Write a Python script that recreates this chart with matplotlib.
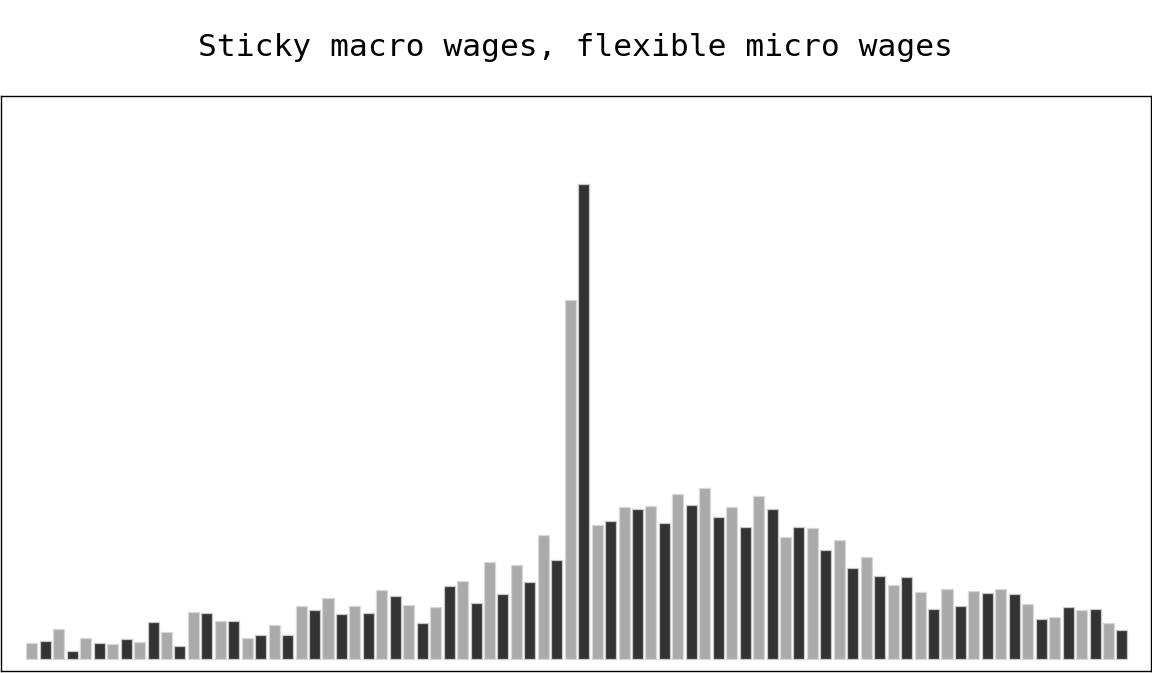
import numpy as np
import matplotlib.pyplot as plt

# bar heights (arbitrary units)
light = [16.7, 30, 21, 15, 17, 27, 47, 38, 21, 34,
         53, 61, 53, 69, 54, 52, 78, 97, 94, 124,
         359, 134, 152, 153, 165, 171, 152, 163, 122, 131,
         119, 102, 74, 67, 70, 68, 70, 55, 42, 49, 36]
dark = [18, 8.7, 16, 20, 37, 13.3, 46, 38, 24, 24,
        49, 45, 46, 63, 36, 73, 56, 65, 77, 99,
        475, 138, 150, 136, 154, 142.6, 132, 150, 132, 109,
        91, 83, 82, 50, 53, 66, 65, 40, 52, 50, 29]
title = "Sticky macro wages, flexible micro wages"

x = np.arange(len(light))

fig = plt.figure(figsize=(11.52, 6.73), dpi=100)
ax = fig.add_axes([1/1152, 2/673, 1150/1152, 575/673])
ax.bar(x - 0.25, light, width=0.41, color="#aaaaaa", edgecolor="#d8d8d8", linewidth=0.9)
ax.bar(x + 0.25, dark, width=0.41, color="#333333", edgecolor="#c8c8c8", linewidth=0.9)
ax.set_xlim(-1.40, 41.33)
ax.set_ylim(-11.7, 563)
ax.set_xticks([])
ax.set_yticks([])
for s in ax.spines.values():
    s.set_linewidth(1.0)
    s.set_color("black")

fig.text(0.5, 1 - 56/673, title, ha="center", va="baseline",
         fontsize=22.5, family="DejaVu Sans Mono")

plt.savefig("out.png", dpi=100)
